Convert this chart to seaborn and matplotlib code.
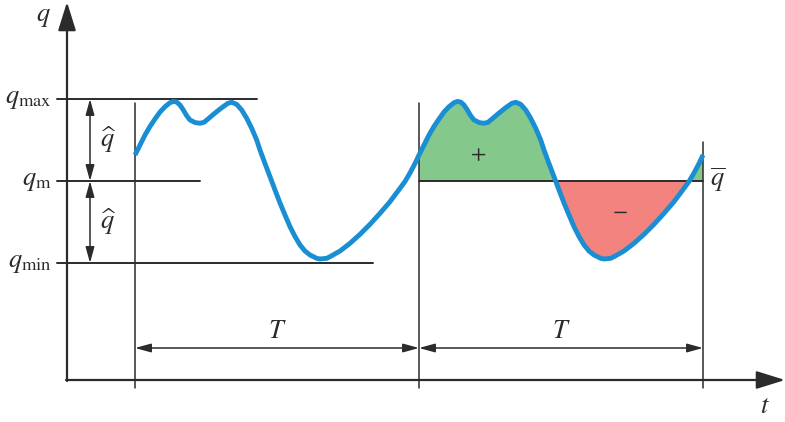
import numpy as np
import pandas as pd
import seaborn as sns
import matplotlib.pyplot as plt

# ---- data: one period of the signal (t in units of T, q relative to q_m in amplitude units) ----
t_period = [0.0000, 0.0176, 0.0352, 0.0528, 0.0704, 0.0880, 0.1056, 0.1232, 0.1349, 0.1468,
            0.1585, 0.1701, 0.1820, 0.1937, 0.2113, 0.2289, 0.2430, 0.2570, 0.2817, 0.3053,
            0.3275, 0.3405, 0.3581, 0.3757, 0.3933, 0.4109, 0.4285, 0.4401, 0.4577, 0.4754,
            0.4930, 0.5106, 0.5282, 0.5458, 0.5634, 0.5810, 0.5986, 0.6162, 0.6398, 0.6514,
            0.6750, 0.6866, 0.7218, 0.7570, 0.7923, 0.8275, 0.8627, 0.8979, 0.9331, 0.9507,
            0.9683, 0.9859, 1.0000]
q_period = [0.317, 0.439, 0.561, 0.665, 0.756, 0.841, 0.906, 0.955, 0.970, 0.963,
            0.927, 0.866, 0.796, 0.744, 0.713, 0.704, 0.716, 0.756, 0.829, 0.894,
            0.948, 0.960, 0.935, 0.866, 0.765, 0.643, 0.500, 0.378, 0.213, 0.052,
            -0.110, -0.268, -0.415, -0.557, -0.677, -0.780, -0.854, -0.902, -0.943, -0.951,
            -0.943, -0.923, -0.854, -0.760, -0.650, -0.528, -0.394, -0.252, -0.089, -0.006,
            0.098, 0.213, 0.317]
n_periods = 2
levels = {"q_max": 1.0, "q_m": 0.0, "q_min": -1.0}

# build the two periods
t_all, q_all = [], []
for k in range(n_periods):
    for i, (tt, qq) in enumerate(zip(t_period, q_period)):
        if k > 0 and i == 0:
            continue
        t_all.append(tt + k)
        q_all.append(qq)
df = pd.DataFrame({"t": t_all, "q": q_all})

# ---- layout helpers (pixel -> data) ----
W, H = 785, 422
X0, TPX = 135, 284      # pixel of t=0, pixels per T
Y0, QPX = 181, 82       # pixel of q=0, pixels per unit
def X(px): return (px - X0) / TPX
def Y(py): return (Y0 - py) / QPX

sns.set_theme(style="white")
plt.rcParams["mathtext.fontset"] = "stix"
plt.rcParams["font.family"] = ["STIXGeneral", "DejaVu Serif"]

fig = plt.figure(figsize=(W / 100, H / 100), dpi=100)
ax = fig.add_axes([0, 0, 1, 1])

dark = "#2b2b2b"
blue = "#1a8ed2"
green = "#84c98b"
red = "#f2837f"

# fills for second period
t2 = df["t"].to_numpy()
q2 = df["q"].to_numpy()
m = t2 >= 1.0
ax.fill_between(t2[m], q2[m], 0, where=q2[m] >= 0, interpolate=True, color=green, lw=0, zorder=1)
ax.fill_between(t2[m], q2[m], 0, where=q2[m] <= 0, interpolate=True, color=red, lw=0, zorder=1)

# axes arrows
big = "-|>,head_length=0.8,head_width=0.25"
ax.annotate("", xy=(X(67), Y(2)), xytext=(X(67), Y(381)),
            arrowprops=dict(arrowstyle=big, color=dark, lw=1.6, mutation_scale=22,
                            shrinkA=0, shrinkB=0), zorder=3)
ax.annotate("", xy=(X(785), Y(380)), xytext=(X(66), Y(380)),
            arrowprops=dict(arrowstyle=big, color=dark, lw=1.6, mutation_scale=22,
                            shrinkA=0, shrinkB=0), zorder=3)

# horizontal level lines
ax.plot([X(57), X(257)], [levels["q_max"]] * 2, color=dark, lw=1.4, zorder=2)
ax.plot([X(57), X(200)], [levels["q_m"]] * 2, color=dark, lw=1.4, zorder=2)
ax.plot([X(57), X(373)], [levels["q_min"]] * 2, color=dark, lw=1.4, zorder=2)
ax.plot([1, 2], [levels["q_m"]] * 2, color=dark, lw=1.4, zorder=2)

# vertical period lines
ax.plot([0, 0], [Y(103), Y(388)], color=dark, lw=1.1, zorder=2)
ax.plot([1, 1], [Y(103), Y(388)], color=dark, lw=1.1, zorder=2)
ax.plot([2, 2], [Y(142), Y(388)], color=dark, lw=1.1, zorder=2)

small = "<|-|>,head_length=0.8,head_width=0.22"
# amplitude double arrows
for a, b in [(levels["q_max"], levels["q_m"]), (levels["q_m"], levels["q_min"])]:
    ax.annotate("", xy=(X(90), a), xytext=(X(90), b),
                arrowprops=dict(arrowstyle=small, color=dark, lw=1.1, mutation_scale=12,
                                shrinkA=0, shrinkB=0), zorder=3)

# period arrows
for a, b in [(0, 1), (1, 2)]:
    ax.annotate("", xy=(a, Y(348)), xytext=(b, Y(348)),
                arrowprops=dict(arrowstyle=small, color=dark, lw=1.1, mutation_scale=12,
                                shrinkA=0, shrinkB=0), zorder=3)

# signal curve
sns.lineplot(data=df, x="t", y="q", sort=False, color=blue, lw=3.5, ax=ax, zorder=4,
             solid_joinstyle="round", solid_capstyle="butt", legend=False)
ax.set_xlim(X(0), X(W))
ax.set_ylim(Y(H), Y(0))
ax.axis("off")

fs = 19
ax.text(X(43), Y(17), r"$q$", fontsize=fs, ha="center", va="center", color=dark)
ax.text(X(52), levels["q_max"], r"$q_{\mathrm{max}}$", fontsize=fs, ha="right", va="center", color=dark)
ax.text(X(52), levels["q_m"], r"$q_{\mathrm{m}}$", fontsize=fs, ha="right", va="center", color=dark)
ax.text(X(52), levels["q_min"], r"$q_{\mathrm{min}}$", fontsize=fs, ha="right", va="center", color=dark)
ax.text(X(108), 0.5, r"$\widehat{q}$", fontsize=fs, ha="center", va="center", color=dark)
ax.text(X(108), -0.5, r"$\widehat{q}$", fontsize=fs, ha="center", va="center", color=dark)
ax.text(X(718), Y(180), r"$\overline{q}$", fontsize=fs, ha="center", va="center", color=dark)
ax.text(X(478), Y(155), r"$+$", fontsize=16, ha="center", va="center", color=dark, zorder=5)
ax.text(X(620), Y(212), r"$-$", fontsize=16, ha="center", va="center", color=dark, zorder=5)
ax.text(0.5, Y(332), r"$T$", fontsize=fs, ha="center", va="center", color=dark)
ax.text(1.5, Y(332), r"$T$", fontsize=fs, ha="center", va="center", color=dark)
ax.text(X(765), Y(407), r"$t$", fontsize=fs, ha="center", va="center", color=dark)

fig.savefig("out.png", dpi=100)
